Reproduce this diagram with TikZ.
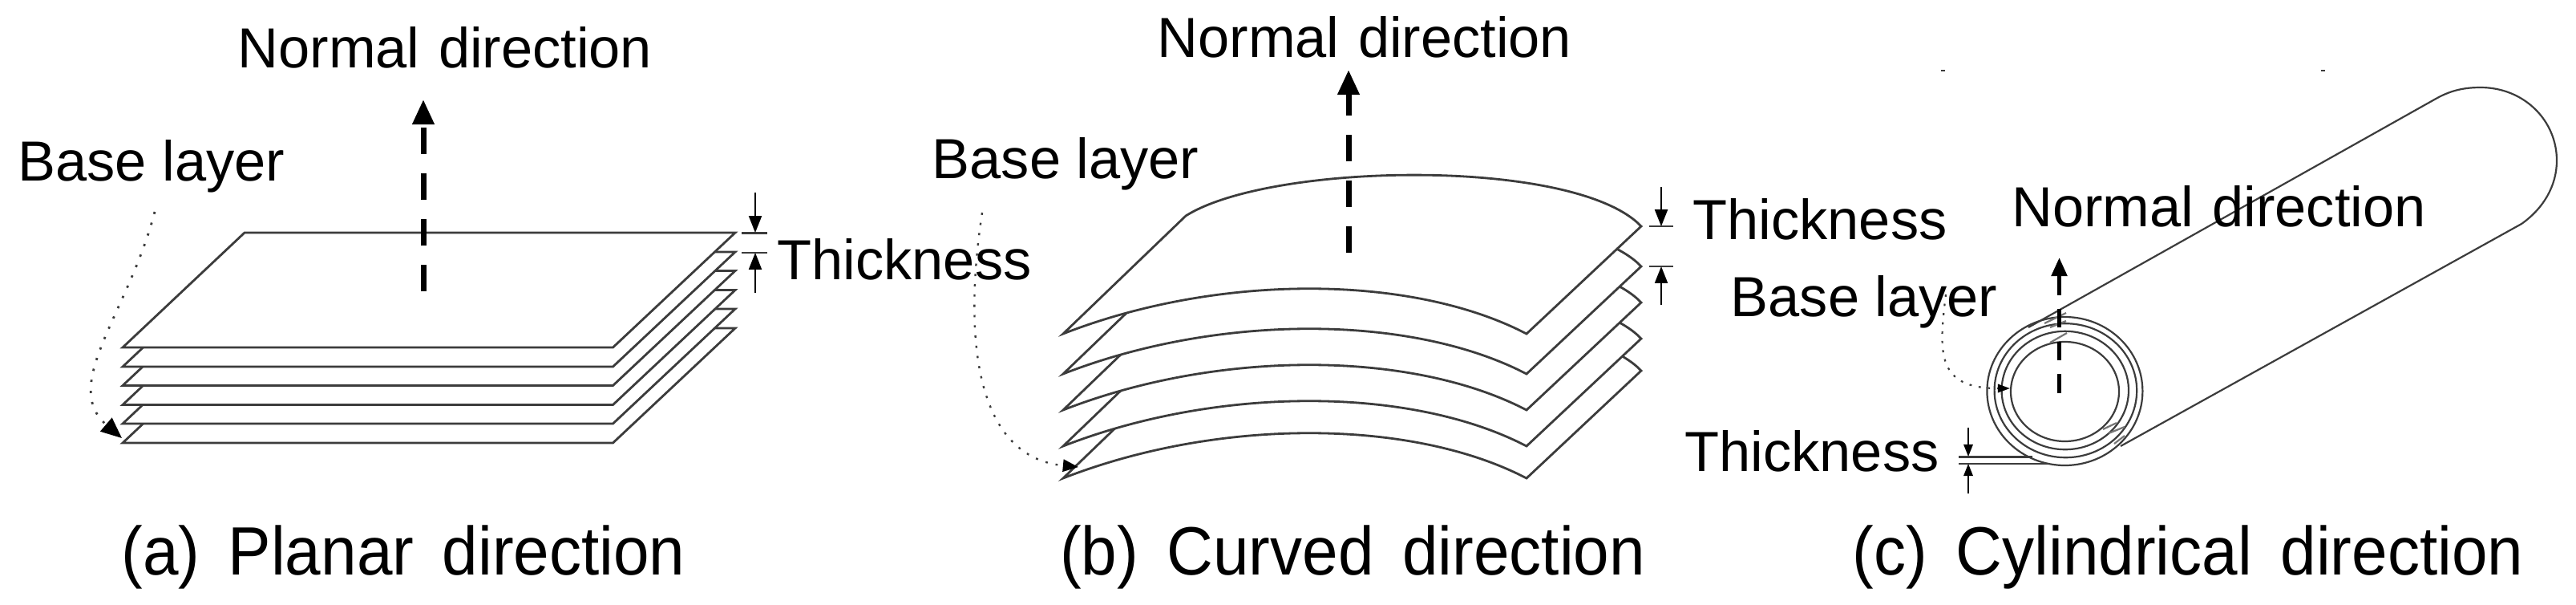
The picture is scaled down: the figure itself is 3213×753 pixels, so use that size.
\documentclass[tikz,border=0pt]{standalone}
\usepackage{fontspec}
\setmainfont{Liberation Sans}
\newfontfamily\capfont[WordSpace=1.6,FakeStretch=0.94]{Liberation Sans}
\usetikzlibrary{arrows.meta}
\definecolor{ink}{HTML}{3C3C3C}
\tikzset{
  x=0.25pt,y=-0.25pt,
  label/.style={inner sep=0pt,anchor=base,text=black,font=\fontsize{17.6}{20}\selectfont},
  caption/.style={inner sep=0pt,anchor=base,text=black,font=\capfont\fontsize{21.3}{24}\selectfont},
  sheet/.style={draw=ink,fill=white,line width=0.7pt,line join=miter},
  tube/.style={draw=ink,line width=0.55pt},
  tick/.style={draw=ink,line width=0.65pt},
  measure/.style={draw=black,line width=0.45pt,-{Triangle[length=5.2pt,width=4pt]}},
  measuresmall/.style={draw=black,line width=0.4pt,-{Triangle[length=3.8pt,width=2.9pt]}},
  normalbig/.style={draw=black,line width=1.75pt,dash pattern=on 8.25pt off 6pt,-{Triangle[length=7.75pt,width=6.5pt]}},
  normalsmall/.style={draw=black,line width=1.25pt,dash pattern=on 5.9pt off 4.3pt,-{Triangle[length=5.8pt,width=4.8pt]}},
  dottedbig/.style={draw=ink,line width=0.7pt,dash pattern=on 0.7pt off 2.8pt,-{Triangle[length=6.5pt,width=5.5pt,color=black]}},
  dottedmid/.style={draw=ink,line width=0.6pt,dash pattern=on 0.7pt off 2.5pt,-{Triangle[length=4.8pt,width=3.8pt,color=black]}},
  dottedsmall/.style={draw=ink,line width=0.55pt,dash pattern=on 0.7pt off 2.2pt,-{Triangle[length=3.8pt,width=2.6pt,color=black]}},
}
\begin{document}
\begin{tikzpicture}
\useasboundingbox (0,0) rectangle (3213,753);

% ---------- (a) planar
\foreach \d in {119,95,71.5,47.5,24,0}{
  \path[sheet] (153,{433+\d}) -- (305,{290+\d}) -- (917,{290+\d}) -- (764.5,{433+\d}) -- cycle;
}
\coordinate (aN0) at (528,363);
\coordinate (aN1) at (528,124);
\draw[normalbig] (aN0) -- (aN1);
\coordinate (aT0) at (942,240); \coordinate (aT1) at (942,290);
\coordinate (aT2) at (942,365); \coordinate (aT3) at (942,315);
\draw[tick] (925,290.5) -- (957,290.5);
\draw[tick] (925,315) -- (957,315);
\draw[measure] (aT0) -- (aT1);
\draw[measure] (aT2) -- (aT3);
\coordinate (aD0) at (193,264);
\coordinate (aD1) at (152,546);
\draw[dottedbig] (aD0) .. controls (160,390) and (75,480) .. (aD1);
\node[label] (aNormal) at (555,84) {Normal\hspace{1pt} direction};
\node[label] (aBase) at (189,225) {Base layer};
\node[label] (aThick) at (1128,348) {Thickness};
\node[caption] (aCap) at (503,716) {(a) Planar direction};

% ---------- (b) curved
\foreach \d in {180,140,95,50,0}{
  \path[sheet] (1326,{416+\d}) -- (1479,{269+\d})
     .. controls (1585,{202+\d}) and (1965,{196+\d}) .. (2047,{282+\d})
     -- (1904,{416+\d})
     .. controls (1760,{341+\d}) and (1518,{341+\d}) .. (1326,{416+\d}) -- cycle;
}
\coordinate (bN0) at (1682,315);
\coordinate (bN1) at (1682,87);
\draw[normalbig] (bN0) -- (bN1);
\coordinate (bT0) at (2072,233); \coordinate (bT1) at (2072,282);
\coordinate (bT2) at (2072,380); \coordinate (bT3) at (2072,332);
\draw[tick] (2057,282) -- (2087,282);
\draw[tick] (2057,332) -- (2087,332);
\draw[measure] (bT0) -- (bT1);
\draw[measure] (bT2) -- (bT3);
\coordinate (bD0) at (1225,265);
\coordinate (bD1) at (1345,582);
\draw[dottedmid] (bD0) .. controls (1200,430) and (1220,570) .. (bD1);
\node[label] (bNormal) at (1702,71) {Normal\hspace{1pt} direction};
\node[label] (bBase) at (1329,222) {Base layer};
\node[label] (bThick) at (2270,298) {Thickness};
\node[caption] (bCap) at (1687,716) {(b) Curved direction};

% ---------- (c) cylindrical
\draw[tube] (2530,408) -- (3039,122.6)
  .. controls (3058,112) and (3075,109) .. (3094,109)
  .. controls (3148,109) and (3189,150) .. (3189,200)
  .. controls (3189,232) and (3172,260) .. (3145,279)
  -- (2645,556);
\draw[tube] (2575.4,487.5) ellipse [x radius=97,y radius=92.5];
\draw[tube] (2576.4,486.7) ellipse [x radius=88.8,y radius=83.5];
\draw[tube] (2575.8,486.5) ellipse [x radius=79.2,y radius=73.7];
\draw[tube] (2575.5,488) ellipse [x radius=67.5,y radius=62];
\draw[tube,draw=ink!70] (2550,403) -- (2577,390);
\draw[tube,draw=ink!70] (2557,408) -- (2577,400);
\draw[tube,draw=ink!70] (2557,427) -- (2578,415);
\draw[tube,draw=ink!70] (2623,535) -- (2640,527);
\draw[tube,draw=ink!70] (2630,540) -- (2650,532);
\draw[tube,draw=ink!70] (2637,553) -- (2650,543);
\draw[tick] (2443,569.5) -- (2535,569.5);
\draw[tick] (2443,578) -- (2556,578);
\coordinate (cT0) at (2455,533); \coordinate (cT1) at (2455,569);
\coordinate (cT2) at (2455,615); \coordinate (cT3) at (2455,578);
\draw[measuresmall] (cT0) -- (cT1);
\draw[measuresmall] (cT2) -- (cT3);
\coordinate (cN0) at (2568.5,490);
\coordinate (cN1) at (2568.5,321);
\draw[normalsmall] (cN0) -- (cN1);
\coordinate (cD0) at (2427,367);
\coordinate (cD1) at (2507,484);
\draw[dottedsmall] (cD0) .. controls (2418,440) and (2415,484) .. (cD1);
\draw[ink,line width=0.5pt] (2421,88) -- (2426,88);
\draw[ink,line width=0.5pt] (2895,88) -- (2900,88);
\node[label] (cNormal) at (2767.5,282) {Normal\hspace{1pt} direction};
\node[label] (cBase) at (2325,394) {Base layer};
\node[label] (cThick) at (2260,587.5) {Thickness};
\node[caption] (cCap) at (2729,716) {(c) Cylindrical direction};
\end{tikzpicture}
\end{document}
